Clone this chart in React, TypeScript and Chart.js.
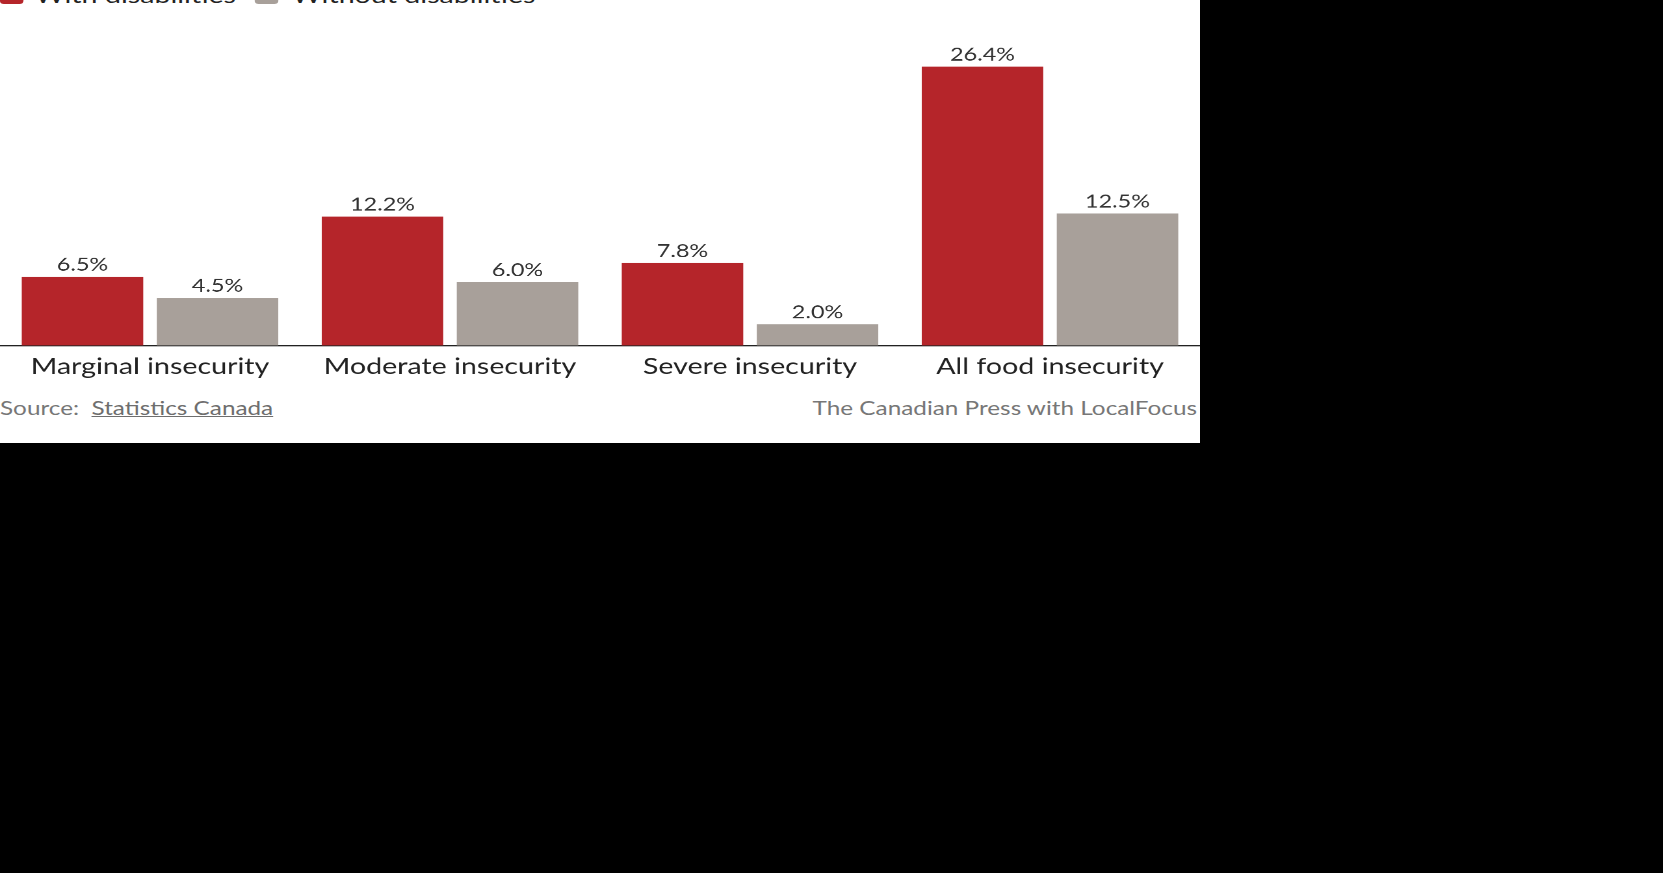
import React, { useEffect, useRef } from "react";
import { Chart, registerables } from "chart.js";

Chart.register(...registerables);

// ---- data ----
const categories = [
  "Marginal insecurity",
  "Moderate insecurity",
  "Severe insecurity",
  "All food insecurity",
];
const seriesNames = ["With disabilities", "Without disabilities"];
const withDisabilities = [6.5, 12.2, 7.8, 26.4];
const withoutDisabilities = [4.5, 6.0, 2.0, 12.5];
const yMin = 0;
const yMax = 30;
const sourceLabel = "Source:";
const sourceName = "Statistics Canada";
const creditText = "The Canadian Press with LocalFocus";

// ---- style ----
const W = 923; // design width, stretched horizontally to 1200px
const S = 1200 / W;
const FONT = "Lato, 'Noto Sans', sans-serif";
const RED = "#b5252a";
const GRAY = "#a8a09a";
const CANVAS_H = 387.5;
const FOOT_FS = 18.7;
const FOOT_TOP = 398.5;

export default function App() {
  const ref = useRef<HTMLCanvasElement>(null);

  useEffect(() => {
    document.documentElement.style.background = "#000";
    document.body.style.background = "#000";

    const valueLabels = {
      id: "valueLabels",
      afterDatasetsDraw(chart: any) {
        const ctx = chart.ctx;
        ctx.save();
        ctx.font = `18px ${FONT}`;
        ctx.fillStyle = "#333";
        ctx.textAlign = "center";
        ctx.textBaseline = "alphabetic";
        chart.data.datasets.forEach((ds: any, i: number) => {
          const meta = chart.getDatasetMeta(i);
          meta.data.forEach((el: any, j: number) => {
            const v = ds.data[j] as number;
            ctx.fillText(v.toFixed(1) + "%", el.x, el.y - 6);
          });
        });
        ctx.restore();
      },
    };

    const chart = new Chart(ref.current as HTMLCanvasElement, {
      type: "bar",
      data: {
        labels: categories,
        datasets: [
          {
            label: seriesNames[0],
            data: withDisabilities,
            backgroundColor: RED,
            categoryPercentage: 0.9,
            barPercentage: 0.9,
          },
          {
            label: seriesNames[1],
            data: withoutDisabilities,
            backgroundColor: GRAY,
            categoryPercentage: 0.9,
            barPercentage: 0.9,
          },
        ],
      },
      options: {
        animation: false,
        responsive: false,
        devicePixelRatio: 2,
        layout: { padding: { top: 28.5, left: 0, right: 0, bottom: 0 } },
        plugins: {
          legend: { display: false },
          tooltip: { enabled: false },
        },
        scales: {
          x: {
            grid: { display: false, drawTicks: false },
            border: { display: true, color: "#222", width: 1.5 },
            ticks: {
              font: { family: FONT, size: 22 },
              color: "#222",
              padding: 8,
              maxRotation: 0,
              autoSkip: false,
            },
          },
          y: { display: false, min: yMin, max: yMax },
        },
      },
      plugins: [valueLabels],
    });
    return () => chart.destroy();
  }, []);

  const box = (left: number, color: string) => (
    <div
      style={{
        position: "absolute",
        left,
        top: -14,
        width: 23 / S,
        height: 18,
        background: color,
        borderRadius: 3,
      }}
    />
  );
  const legendText = (left: number, text: string) => (
    <div
      style={{
        position: "absolute",
        left,
        top: -16.5,
        font: `22px ${FONT}`,
        lineHeight: "22px",
        color: "#222",
        whiteSpace: "nowrap",
      }}
    >
      {text}
    </div>
  );

  return (
    <div
      style={{
        position: "absolute",
        left: 0,
        top: 0,
        width: W,
        height: 443,
        background: "#fff",
        overflow: "hidden",
        transform: `scaleX(${S})`,
        transformOrigin: "0 0",
      }}
    >
      {box(0, RED)}
      {legendText(35 / S, seriesNames[0])}
      {box(255 / S, GRAY)}
      {legendText(292 / S, seriesNames[1])}
      <canvas
        ref={ref}
        width={W}
        height={CANVAS_H}
        style={{ position: "absolute", left: 0, top: 0, width: W, height: CANVAS_H }}
      />
      <div
        style={{
          position: "absolute",
          left: 0,
          top: FOOT_TOP,
          font: `${FOOT_FS}px ${FONT}`,
          lineHeight: `${FOOT_FS}px`,
          color: "#777",
          whiteSpace: "pre",
        }}
      >
        {sourceLabel + "  "}
        <span style={{ textDecoration: "underline", color: "#6e6e6e" }}>{sourceName}</span>
      </div>
      <div
        style={{
          position: "absolute",
          right: 3 / S,
          top: FOOT_TOP,
          font: `${FOOT_FS}px ${FONT}`,
          lineHeight: `${FOOT_FS}px`,
          color: "#777",
          whiteSpace: "nowrap",
        }}
      >
        {creditText}
      </div>
    </div>
  );
}
